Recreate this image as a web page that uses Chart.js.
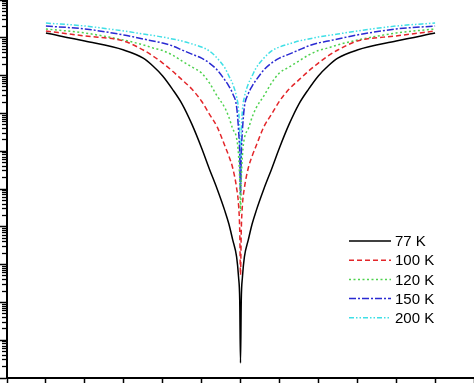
<!DOCTYPE html>
<html>
<head>
<meta charset="utf-8">
<script src="https://cdn.jsdelivr.net/npm/chart.js@4.4.1/dist/chart.umd.min.js"></script>
<style>
  html, body { margin: 0; padding: 0; background: #fff; }
  canvas { display: block; }
</style>
</head>
<body>
<canvas id="chart" width="474" height="386"></canvas>
<script>
// x positions of the samples (arbitrary units, centre at 0)
const xValues = [-5, -4, -3, -2.5, -2.25, -2, -1.75, -1.5, -1.25, -1, -0.8, -0.6, -0.4, -0.3, -0.2, -0.1, -0.05, -0.02, 0,
                 0.02, 0.05, 0.1, 0.2, 0.3, 0.4, 0.6, 0.8, 1, 1.25, 1.5, 1.75, 2, 2.25, 2.5, 3, 4, 5];

const seriesLabels = ["77 K", "100 K", "120 K", "150 K", "200 K"];

const y77 = [1.34e9, 8.2e8, 4.75e8, 2.9e8, 1.8e8, 9.8e7, 4.4e7, 1.77e7, 5.2e6, 1.22e6, 3.4e5, 1.0e5, 2.6e4, 1.2e4, 4.5e3, 1.6e3, 470, 116, 2.5,
             116, 470, 1.6e3, 4.5e3, 1.2e4, 2.6e4, 1.0e5, 3.4e5, 1.22e6, 5.2e6, 1.77e7, 4.4e7, 9.8e7, 1.8e8, 2.9e8, 4.75e8, 8.2e8, 1.34e9];
const y100 = [1.51e9, 1.12e9, 8.2e8, 4.75e8, 3.3e8, 2.15e8, 1.32e8, 7.7e7, 4.4e7, 2.1e7, 9.6e6, 4.4e6, 1.37e6, 7.5e5, 3.6e5, 1.06e5, 3.8e4, 8.2e3, 530,
              8.2e3, 3.8e4, 1.06e5, 3.6e5, 7.5e5, 1.37e6, 4.4e6, 9.6e6, 2.1e7, 4.4e7, 7.7e7, 1.32e8, 2.15e8, 3.3e8, 4.75e8, 8.2e8, 1.12e9, 1.51e9];
const y120 = [1.71e9, 1.34e9, 8.7e8, 6.5e8, 5.4e8, 4.6e8, 3.5e8, 2.43e8, 1.69e8, 1.17e8, 6.4e7, 2.9e7, 1.39e7, 8.0e6, 3.9e6, 2.2e6, 7.9e5, 1.73e5, 2.5e4,
              1.73e5, 7.9e5, 2.2e6, 3.9e6, 8.0e6, 1.39e7, 2.9e7, 6.4e7, 1.17e8, 1.69e8, 2.43e8, 3.5e8, 4.6e8, 5.4e8, 6.5e8, 8.7e8, 1.34e9, 1.71e9];
const y150 = [2.05e9, 1.71e9, 1.19e9, 9.3e8, 8.2e8, 7.3e8, 6.1e8, 4.75e8, 3.7e8, 2.9e8, 2.15e8, 1.41e8, 7.6e7, 5.3e7, 3.3e7, 1.48e7, 3.6e6, 7.9e5, 6.9e4,
              7.9e5, 3.6e6, 1.48e7, 3.3e7, 5.3e7, 7.6e7, 1.41e8, 2.15e8, 2.9e8, 3.7e8, 4.75e8, 6.1e8, 7.3e8, 8.2e8, 9.3e8, 1.19e9, 1.71e9, 2.05e9];
const y200 = [2.46e9, 2.05e9, 1.51e9, 1.26e9, 1.15e9, 1.05e9, 9.3e8, 8.2e8, 6.9e8, 5.7e8, 4.5e8, 2.9e8, 1.59e8, 9.8e7, 6.0e7, 2.7e7, 1.23e7, 2.7e6, 1.28e5,
              2.7e6, 1.23e7, 2.7e7, 6.0e7, 9.8e7, 1.59e8, 2.9e8, 4.5e8, 5.7e8, 6.9e8, 8.2e8, 9.3e8, 1.05e9, 1.15e9, 1.26e9, 1.51e9, 2.05e9, 2.46e9];

const seriesValues = [y77, y100, y120, y150, y200];
const colors = ["#000000", "#e3262a", "#4fd24f", "#2a2ad2", "#3fdfe6"];
const dashes = [[], [5, 3], [2, 2.5], [7, 2, 2, 2], [5, 2, 1.5, 2, 1.5, 2]];

const majorTicks = [];
const minorTicks = [];
for (let e = 0; e <= 10; e++) {
    majorTicks.push(Math.pow(10, e));
    if (e < 10) {
        for (let k = 2; k <= 9; k++) minorTicks.push(k * Math.pow(10, e));
    }
}

const legendPlugin = {
    id: "cornerLegend",
    afterDraw(chart) {
        const ctx = chart.ctx;
        ctx.save();
        ctx.font = "15px 'Liberation Sans', Arial, sans-serif";
        ctx.textBaseline = "middle";
        chart.data.datasets.forEach((ds, i) => {
            const y = 241 + i * 19.2;
            ctx.strokeStyle = ds.borderColor;
            ctx.lineWidth = 1.5;
            ctx.setLineDash(ds.borderDash || []);
            ctx.beginPath();
            ctx.moveTo(349, y);
            ctx.lineTo(391, y);
            ctx.stroke();
            ctx.setLineDash([]);
            ctx.fillStyle = "#000";
            ctx.fillText(ds.label, 395, y + 1);
        });
        ctx.restore();
    }
};

new Chart(document.getElementById("chart").getContext("2d"), {
    type: "line",
    data: {
        datasets: seriesLabels.map((label, i) => ({
            label: label,
            data: xValues.map((x, j) => ({ x: x, y: seriesValues[i][j] })),
            borderColor: colors[i],
            borderDash: dashes[i],
            borderWidth: 1.5,
            pointRadius: 0,
            fill: false,
            cubicInterpolationMode: "monotone"
        }))
    },
    options: {
        responsive: false,
        animation: false,
        layout: { padding: { left: 0, right: 0, top: 0, bottom: 3 } },
        plugins: {
            legend: { display: false },
            tooltip: { enabled: false }
        },
        scales: {
            x: {
                type: "linear",
                min: -6,
                max: 6,
                ticks: { display: false, stepSize: 1 },
                grid: { drawOnChartArea: false, tickLength: 5, tickWidth: 1.5, tickColor: "#000" },
                border: { display: true, width: 2, color: "#000" }
            },
            y: {
                type: "logarithmic",
                min: 1,
                max: 1e10,
                afterBuildTicks: scale => { scale.ticks = majorTicks.map(v => ({ value: v })); },
                ticks: { display: false },
                grid: { drawOnChartArea: false, tickLength: 7, tickWidth: 1.5, tickColor: "#000" },
                border: { display: true, width: 2, color: "#000" }
            },
            yMinor: {
                axis: "y",
                type: "logarithmic",
                position: { x: -6 },
                min: 1,
                max: 1e10,
                afterBuildTicks: scale => { scale.ticks = minorTicks.map(v => ({ value: v })); },
                ticks: { display: false },
                grid: { drawOnChartArea: false, tickLength: 5, tickWidth: 1.3, tickColor: "#000" },
                border: { display: false }
            }
        }
    },
    plugins: [legendPlugin]
});
</script>
</body>
</html>
